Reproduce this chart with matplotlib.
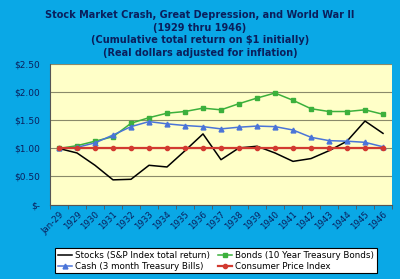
import matplotlib.pyplot as plt
import numpy as np

years = ["Jan-29"] + [str(y) for y in range(1929, 1947)]
stocks = [1.00, 0.92, 0.70, 0.44, 0.45, 0.70, 0.67, 0.96, 1.26, 0.80, 1.01, 1.04,
          0.92, 0.77, 0.82, 0.96, 1.13, 1.49, 1.27]
bonds = [1.00, 1.05, 1.13, 1.21, 1.45, 1.55, 1.63, 1.66, 1.72, 1.69, 1.80, 1.90,
         1.99, 1.86, 1.71, 1.66, 1.66, 1.69, 1.61]
cash = [1.00, 1.02, 1.10, 1.24, 1.39, 1.48, 1.44, 1.41, 1.39, 1.35, 1.38, 1.40,
        1.39, 1.33, 1.20, 1.14, 1.13, 1.11, 1.03]
cpi = [1.00] * 19
yticks = [0, 0.5, 1.0, 1.5, 2.0, 2.5]
ylabels = ["$-", "$0.50", "$1.00", "$1.50", "$2.00", "$2.50"]

navy = "#0a1f5c"
fig = plt.figure(figsize=(4, 2.79), dpi=100, facecolor="#0aa8e6")
ax = fig.add_axes([0.125, 0.267, 0.855, 0.502])
ax.set_facecolor("#ffffc8")

x = np.arange(len(years))
l1, = ax.plot(x, stocks, color="black", lw=1.1)
l2, = ax.plot(x, bonds, color="#3cb03c", lw=1.1, marker="s", ms=3)
l3, = ax.plot(x, cash, color="#4a74d8", lw=1.1, marker="^", ms=3.5)
l4, = ax.plot(x, cpi, color="#d23a30", lw=1.6, marker="o", ms=3)

ax.set_xlim(-0.5, len(years) - 0.5)
ax.set_ylim(0, 2.5)
ax.set_yticks(yticks)
ax.set_yticklabels(ylabels, fontsize=6.5, color=navy)
ax.yaxis.grid(True, color="#8a8a6a", lw=0.8)
ax.set_axisbelow(True)
ax.set_xticks(x)
ax.set_xticklabels(years, rotation=45, ha="right", rotation_mode="anchor", fontsize=6.2, color=navy)
ax.tick_params(axis="x", length=0, pad=4)
ax.set_xticks(np.arange(len(years) + 1) - 0.5, minor=True)
ax.tick_params(axis="x", which="minor", length=3, color="#555555")
ax.tick_params(axis="y", length=0, pad=7)
for s in ["top", "right"]:
    ax.spines[s].set_visible(False)
for s in ["left", "bottom"]:
    ax.spines[s].set_color("#555555")

fig.text(0.5, 0.965, "Stock Market Crash, Great Depression, and World War II\n(1929 thru 1946)\n"
         "(Cumulative total return on $1 initially)\n(Real dollars adjusted for inflation)",
         ha="center", va="top", fontsize=7, fontweight="bold", color=navy, linespacing=1.35)

leg = fig.legend([l1, l3, l2, l4],
                 ["Stocks (S&P Index total return)", "Cash (3 month Treasury Bills)",
                  "Bonds (10 Year Treasury Bonds)", "Consumer Price Index"],
                 loc="lower center", bbox_to_anchor=(0.54, 0.005), ncol=2, fontsize=6.3,
                 frameon=True, fancybox=False, edgecolor="black", framealpha=1,
                 handlelength=1.6, handletextpad=0.3, columnspacing=1.0,
                 borderpad=0.3, labelspacing=0.2)
leg.get_frame().set_linewidth(0.8)

fig.savefig("out.png", dpi=100, facecolor=fig.get_facecolor())
